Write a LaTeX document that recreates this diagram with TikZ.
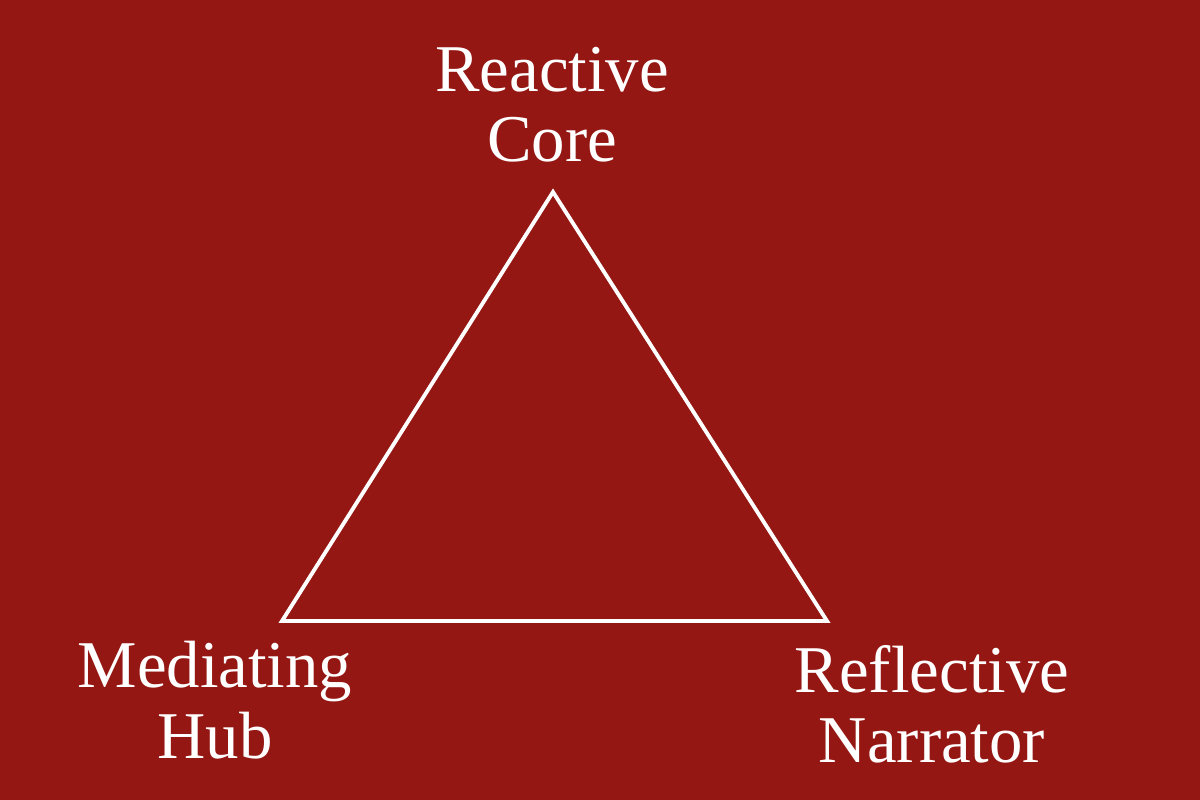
\documentclass[tikz,border=0pt]{standalone}
\usepackage{fontspec}
\setmainfont{Liberation Serif}
\definecolor{bg}{HTML}{951713}
\begin{document}
\begin{tikzpicture}[x=0.01cm,y=0.01cm,
  lbl/.style={text=white,align=center,font=\fontsize{19}{20}\selectfont,inner sep=0pt},
  edge/.style={draw=white,line width=1.1pt,line join=miter}]
\fill[bg] (0,0) rectangle (1200,800);
\useasboundingbox (0,0) rectangle (1200,800);
\coordinate (top) at (553,608);
\coordinate (bl) at (282,179);
\coordinate (br) at (827,179);
\draw[edge] (top) -- (bl) -- (br) -- cycle;
\node[lbl] (rc) at (552,695) {Reactive\\Core};
\node[lbl] (mh) at (215,100) {Mediating\\Hub};
\node[lbl] (rn) at (932,96) {Reflective\\Narrator};
\end{tikzpicture}
\end{document}
